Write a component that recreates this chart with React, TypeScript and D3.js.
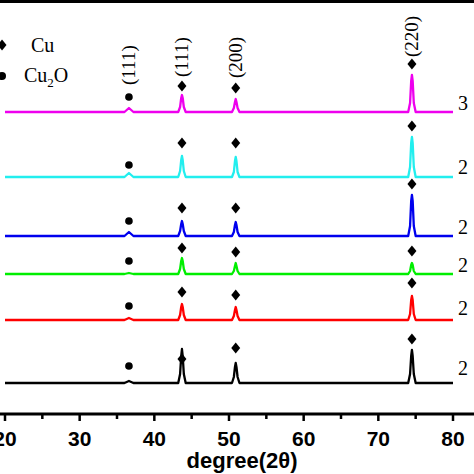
import React from "react";
import * as d3 from "d3";

// 2θ positions of peaks
const peakPos = { cu2o: 36.6, cu111: 43.7, cu200: 50.9, cu220: 74.5 };

// XRD patterns: [2θ, intensity (a.u., offset stacked)]
const blackSeries: [number, number][] = [
  [20, 31], [36.0, 31], [36.6, 33], [37.2, 31], [43.2, 31], [43.45, 40], [43.6, 58], [43.7, 65], [43.8, 58], [43.95, 40], [44.2, 31],
  [50.4, 31], [50.65, 37], [50.8, 47], [50.9, 51], [51.0, 47], [51.15, 37], [51.4, 31],
  [74.0, 31], [74.25, 40], [74.4, 58], [74.5, 64], [74.6, 58], [74.75, 40], [75.0, 31], [80, 31],
];
const redSeries: [number, number][] = [
  [20, 94], [36.0, 94], [36.6, 96], [37.2, 94], [43.2, 94], [43.45, 99], [43.6, 107], [43.7, 110], [43.8, 107], [43.95, 99], [44.2, 94],
  [50.4, 94], [50.65, 98], [50.8, 104], [50.9, 107], [51.0, 104], [51.15, 98], [51.4, 94],
  [74.0, 94], [74.25, 100], [74.4, 114], [74.5, 118], [74.6, 114], [74.75, 100], [75.0, 94], [80, 94],
];
const greenSeries: [number, number][] = [
  [20, 140], [36.0, 140], [36.6, 141], [37.2, 140], [43.2, 140], [43.45, 145], [43.6, 153], [43.7, 156], [43.8, 153], [43.95, 145], [44.2, 140],
  [50.4, 140], [50.65, 143], [50.8, 148], [50.9, 151], [51.0, 148], [51.15, 143], [51.4, 140],
  [74.0, 140], [74.25, 143], [74.4, 149], [74.5, 151], [74.6, 149], [74.75, 143], [75.0, 140], [80, 140],
];
const blueSeries: [number, number][] = [
  [20, 178], [36.0, 178], [36.6, 182], [37.2, 178], [43.2, 178], [43.45, 183], [43.6, 190], [43.7, 193], [43.8, 190], [43.95, 183], [44.2, 178],
  [50.4, 178], [50.65, 182], [50.8, 189], [50.9, 192], [51.0, 189], [51.15, 182], [51.4, 178],
  [74.0, 178], [74.25, 188], [74.4, 213], [74.5, 219], [74.6, 213], [74.75, 188], [75.0, 178], [80, 178],
];
const cyanSeries: [number, number][] = [
  [20, 237], [36.0, 237], [36.6, 241], [37.2, 237], [43.2, 237], [43.45, 243], [43.6, 254], [43.7, 258], [43.8, 254], [43.95, 243], [44.2, 237],
  [50.4, 237], [50.65, 242], [50.8, 253], [50.9, 257], [51.0, 253], [51.15, 242], [51.4, 237],
  [74.0, 237], [74.25, 247], [74.4, 271], [74.5, 277], [74.6, 271], [74.75, 247], [75.0, 237], [80, 237],
];
const magentaSeries: [number, number][] = [
  [20, 302], [36.0, 302], [36.6, 306], [37.2, 302], [43.2, 302], [43.45, 307], [43.6, 316], [43.7, 319], [43.8, 316], [43.95, 307], [44.2, 302],
  [50.4, 302], [50.65, 306], [50.8, 312], [50.9, 315], [51.0, 312], [51.15, 306], [51.4, 302],
  [74.0, 302], [74.25, 311], [74.4, 333], [74.5, 339], [74.6, 333], [74.75, 311], [75.0, 302], [80, 302],
];

const seriesColors = ["#000000", "#ff0000", "#00ee00", "#0000ee", "#22eeee", "#ee00ee"];
const seriesLabels = ["2", "2", "2", "2", "2", "3"];
const labelLevels = [39, 99, 142, 180, 240, 304];

// marker heights per series: [Cu2O circle, Cu(111), Cu(200), Cu(220)]
const circleLevels = [48, 108, 153, 193, 249, 317];
const diamond111 = [55, 122, 166, 206, 271, 328];
const diamond200 = [66, 119, 162, 206, 271, 326];
const diamond220 = [75, 131, 163, 230, 288, 350];

const xTicks = [20, 30, 40, 50, 60, 70, 80];
const xMinorTicks = [25, 35, 45, 55, 65, 75];
const hklLabels = [
  { pos: 36.6, text: "(111)", bottom: 329 },
  { pos: 43.7, text: "(111)", bottom: 337 },
  { pos: 50.9, text: "(200)", bottom: 336 },
  { pos: 74.5, text: "(220)", bottom: 357 },
];

const diamondD = "M0,-5.5L4.5,0L0,5.5L-4.5,0Z";

export default function App() {
  const W = 474, H = 474;
  const x = d3.scaleLinear().domain([20, 80]).range([5, 453]);
  const y = d3.scaleLinear().domain([0, 414]).range([414, 0]);
  const allSeries = [blackSeries, redSeries, greenSeries, blueSeries, cyanSeries, magentaSeries];
  const line = d3.line<[number, number]>().x((d) => x(d[0])).y((d) => y(d[1]));
  const serif = "'Liberation Serif', 'Times New Roman', serif";
  const sans = "'Liberation Sans', Arial, sans-serif";

  return (
    <svg width={W} height={H} style={{ position: "absolute", left: 0, top: 0, background: "#fff" }}>
      <rect x={0} y={0} width={W} height={H} fill="#fff" />
      {/* top frame */}
      <line x1={0} x2={W} y1={1.5} y2={1.5} stroke="#000" strokeWidth={3} />
      {/* series */}
      {allSeries.map((s, i) => (
        <path key={i} d={line(s)!} fill="none" stroke={seriesColors[i]} strokeWidth={2.3} strokeLinejoin="round" />
      ))}
      {/* markers */}
      {seriesColors.map((_, i) => (
        <g key={"m" + i}>
          <circle cx={x(peakPos.cu2o)} cy={y(circleLevels[i])} r={3.8} fill="#000" />
          <path d={diamondD} transform={`translate(${x(peakPos.cu111)},${y(diamond111[i])})`} fill="#000" />
          <path d={diamondD} transform={`translate(${x(peakPos.cu200)},${y(diamond200[i])})`} fill="#000" />
          <path d={diamondD} transform={`translate(${x(peakPos.cu220)},${y(diamond220[i])})`} fill="#000" />
        </g>
      ))}
      {/* series labels (cut at right edge) */}
      {seriesLabels.map((t, i) => (
        <text key={"l" + i} x={458} y={y(labelLevels[i])} fontFamily={serif} fontSize={20} fill="#000">{t}</text>
      ))}
      {/* hkl labels */}
      {hklLabels.map((h, i) => (
        <text key={"h" + i} transform={`translate(${x(h.pos) + 6},${y(h.bottom)}) rotate(-90)`} fontFamily={serif} fontSize={19} fill="#000">{h.text}</text>
      ))}
      {/* legend */}
      <path d={diamondD} transform="translate(2,45)" fill="#000" />
      <text x={31} y={52} fontFamily={serif} fontSize={20} fill="#000">Cu</text>
      <circle cx={2} cy={76} r={4} fill="#000" />
      <text x={24} y={82} fontFamily={serif} fontSize={20} fill="#000">
        Cu<tspan fontSize={13} dy={5}>2</tspan><tspan dy={-5}>O</tspan>
      </text>
      {/* x axis */}
      <line x1={0} x2={W} y1={414} y2={414} stroke="#000" strokeWidth={3} />
      {xTicks.map((t) => (
        <g key={"t" + t}>
          <line x1={x(t)} x2={x(t)} y1={414} y2={421} stroke="#000" strokeWidth={2.5} />
          <text x={x(t)} y={446} textAnchor="middle" fontFamily={sans} fontWeight="bold" fontSize={21} fill="#000">{t}</text>
        </g>
      ))}
      {xMinorTicks.map((t) => (
        <line key={"mt" + t} x1={x(t)} x2={x(t)} y1={414} y2={419} stroke="#000" strokeWidth={2.5} />
      ))}
      <text x={242} y={468} textAnchor="middle" fontFamily={sans} fontWeight="bold" fontSize={22} fill="#000">degree(2θ)</text>
    </svg>
  );
}
